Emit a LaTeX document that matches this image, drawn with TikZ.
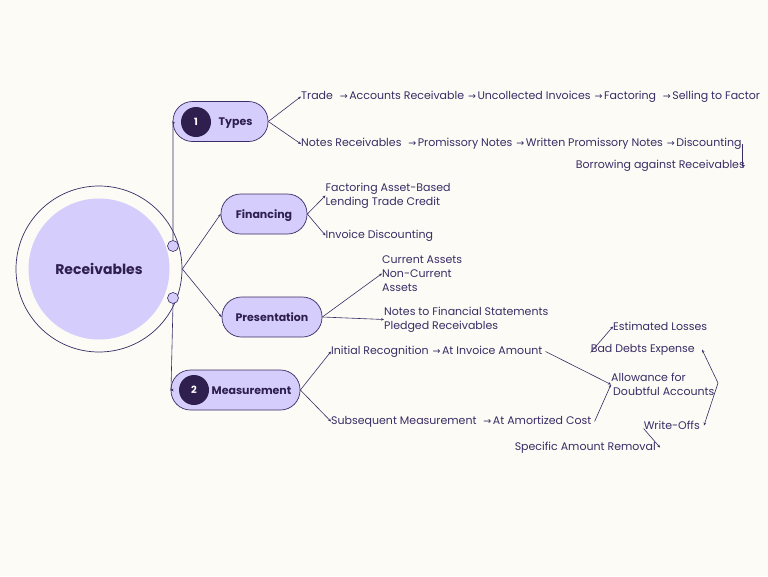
\documentclass[tikz,border=0pt]{standalone}
\usepackage{fontspec}
\setmainfont{Poppins}
\newfontfamily\arr{DejaVu Sans}
\usetikzlibrary{arrows.meta}
\definecolor{bg}{HTML}{FDFBF5}
\definecolor{pill}{HTML}{D5CDFB}
\definecolor{ink}{HTML}{3A2C66}
\definecolor{dark}{HTML}{2E1F4F}
\newcommand{\ar}{{\hspace{1pt}\arr\fontsize{9.5}{10}\selectfont→}\hspace{1.5pt}}
\tikzset{
  pillbox/.style={draw=ink,fill=pill,rounded corners=19.5pt,line width=0.7pt,minimum height=40pt,text=dark,font=\fontsize{11}{13}\selectfont\bfseries,inner sep=0pt,text height=8pt,text depth=0pt},
  numdot/.style={circle,fill=dark,minimum size=30pt,inner sep=0pt,text=white,font=\fontsize{10}{12}\selectfont\bfseries,text height=7pt,text depth=0pt},
  leaf/.style={anchor=west,inner sep=0pt,text=ink,font=\fontsize{11}{14}\selectfont,align=left,yshift=-1.5pt},
  conn/.style={draw=ink,line width=0.6pt,-{Stealth[length=3pt,width=2.6pt]}}
}
\begin{document}
\begin{tikzpicture}[x=1pt,y=-1pt]
\useasboundingbox (0,0) rectangle (768,576);
\fill[bg] (0,0) rectangle (768,576);
% central
\node[circle,draw=ink,line width=0.7pt,minimum size=166pt,inner sep=0pt] (outer) at (99,269) {};
\node[circle,fill=pill,minimum size=141pt,inner sep=0pt,text=dark,font=\fontsize{14}{16}\selectfont\bfseries,text height=10pt,text depth=0pt] (root) at (99,269) {Receivables};
\node[circle,draw=ink,fill=pill,line width=0.6pt,minimum size=11pt,inner sep=0pt] (sc1) at (173,246) {};
\node[circle,draw=ink,fill=pill,line width=0.6pt,minimum size=11pt,inner sep=0pt] (sc2) at (173,298) {};
% pills
\node[pillbox,minimum width=95pt] (types) at (220.5,121.5) {\hspace*{30pt}Types};
\node[numdot] (n1) at (196,122) {1};
\node[pillbox,minimum width=86pt] (fin) at (264,214) {Financing};
\node[pillbox,minimum width=100pt] (pres) at (272,317) {Presentation};
\node[pillbox,minimum width=129pt] (meas) at (235.5,390) {\hspace*{32pt}Measurement};
\node[numdot] (n2) at (194,390) {2};
% central connectors
\draw[conn] (sc1.north) -- (173,122) -- (types.west);
\draw[conn] (sc2.south) -- (171,390) -- (meas.west);
\draw[conn] (outer.east) -- (fin.west);
\draw[conn] (outer.east) -- (pres.west);
% types leaves
\node[leaf] (trade) at (301,95) {Trade \ \ar Accounts Receivable \ar Uncollected Invoices \ar Factoring \ \ar Selling to Factor};
\node[leaf] (notes) at (301,142.5) {Notes Receivables \ \ar Promissory Notes \ar Written Promissory Notes \ar Discounting};
\node[leaf,anchor=east] (borrow) at (745,164) {Borrowing against Receivables};
\draw[conn] (types.east) -- (trade.west);
\draw[conn] (types.east) -- (notes.west);
\draw[conn] ([xshift=1pt]notes.east) |- (borrow.east);
% financing leaves
\node[leaf] (fab) at (325.5,194) {Factoring Asset-Based\\Lending Trade Credit};
\node[leaf] (inv) at (325.5,234) {Invoice Discounting};
\draw[conn] (fin.east) -- (fab.west);
\draw[conn] (fin.east) -- (inv.west);
% presentation leaves
\node[leaf] (cur) at (382,272) {Current Assets\\Non-Current\\Assets};
\node[leaf] (nfs) at (384,318) {Notes to Financial Statements\\Pledged Receivables};
\draw[conn] (pres.east) -- (cur.west);
\draw[conn] (pres.east) -- (nfs.west);
% measurement leaves
\node[leaf] (init) at (331,350) {Initial Recognition \ar At Invoice Amount};
\node[leaf] (subs) at (331,420) {Subsequent Measurement \ \ar At Amortized Cost};
\draw[conn] (meas.east) -- (init.west);
\draw[conn] (meas.east) -- (subs.west);
\node[leaf] (allow) at (611,383) {Allowance for\\\hspace*{2pt}Doubtful Accounts};
\draw[conn] ([xshift=3pt]init.east) -- (allow.west);
\draw[conn] ([xshift=3pt]subs.east) -- (allow.west);
\node[leaf,anchor=east] (bad) at (695,348) {Bad Debts Expense};
\node[leaf] (est) at (613,325) {Estimated Losses};
\node[leaf,anchor=east] (wo) at (700,424) {Write-Offs};
\node[leaf,anchor=east] (spec) at (656,446) {Specific Amount Removal};
\coordinate (aright) at (718,383);
\draw[conn] (aright) -- ([xshift=7pt]bad.east);
\draw[conn] (aright) -- ([xshift=4pt]wo.east);
\draw[conn] ([yshift=-3pt]bad.west) -- (est.west);
\draw[conn] ([yshift=-3pt]wo.west) -- ([xshift=4pt]spec.east);
\end{tikzpicture}
\end{document}
